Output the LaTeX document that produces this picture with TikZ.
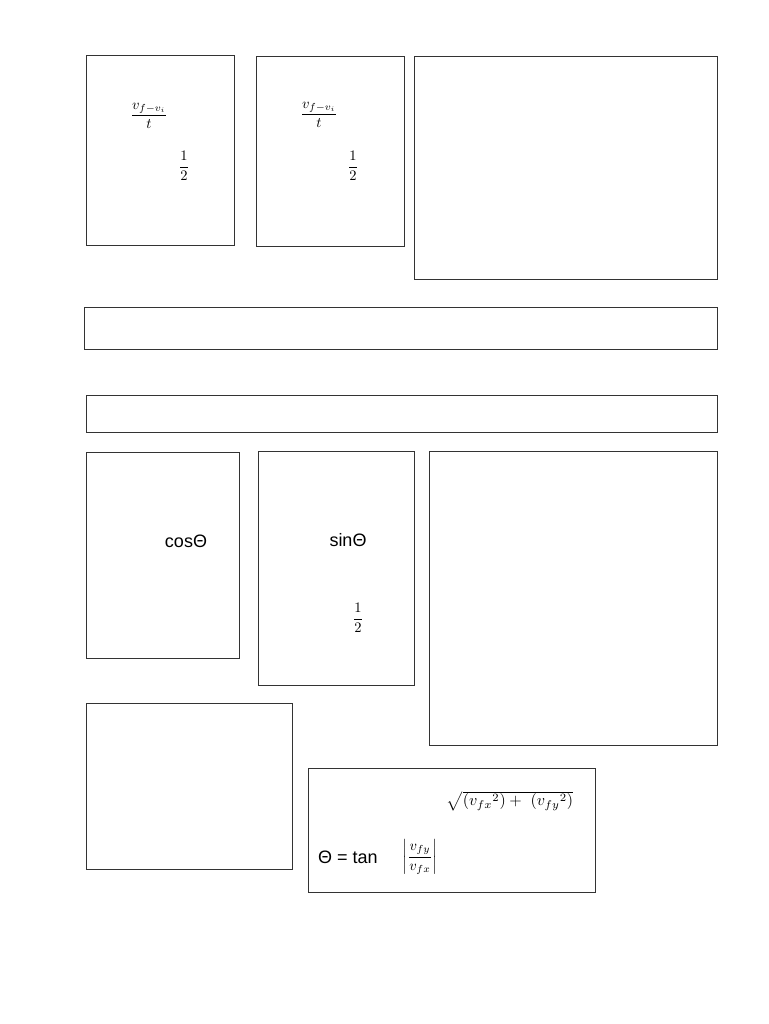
\documentclass[tikz,border=0pt]{standalone}
\usepackage{amsmath}
\usepackage{graphicx}
\usepackage{fontspec}
\setsansfont{Liberation Sans}
\begin{document}
\begin{tikzpicture}[x=1pt,y=-1pt,box/.style={draw=black!80,line width=0.8pt},
 lbl/.style={inner sep=0pt,font=\sffamily\fontsize{18}{20}\selectfont},
 frac/.style={inner sep=0pt}]
\useasboundingbox[fill=white] (0,0) rectangle (768,1024);
\draw[box] (86,55) rectangle (234,245);
\draw[box] (256,56) rectangle (404,246);
\draw[box] (414,56) rectangle (717,279);
\draw[box] (84,307) rectangle (717,349);
\draw[box] (86,395) rectangle (717,432);
\draw[box] (86,452) rectangle (239,658);
\draw[box] (258,451) rectangle (414,685);
\draw[box] (429,451) rectangle (717,745);
\draw[box] (86,703) rectangle (292,869);
\draw[box] (308,768) rectangle (595,892);
\node[frac] (f1) at (149,116) {\scalebox{1.45}{$\dfrac{v_{f-v_i}}{t}$}};
\node[frac] (h1) at (184,166) {\scalebox{1.45}{$\dfrac{1}{2}$}};
\node[frac] (f2) at (319,115) {\scalebox{1.45}{$\dfrac{v_{f-v_i}}{t}$}};
\node[frac] (h2) at (353,166) {\scalebox{1.45}{$\dfrac{1}{2}$}};
\node[lbl] (c) at (186,541) {cosΘ};
\node[lbl] (s) at (348,540) {sinΘ};
\node[frac] (h3) at (358,618) {\scalebox{1.45}{$\dfrac{1}{2}$}};
\node[frac] (sq) at (510,801) {\scalebox{1.6}{$\sqrt{(v_{fx}{}^2)+\ (v_{fy}{}^2)}$}};
\node[lbl,anchor=west] (t) at (318,857) {Θ = tan};
\node[frac] (ab) at (420,857) {\scalebox{1.45}{$\left|\dfrac{v_{fy}}{v_{fx}}\right|$}};
\end{tikzpicture}
\end{document}
